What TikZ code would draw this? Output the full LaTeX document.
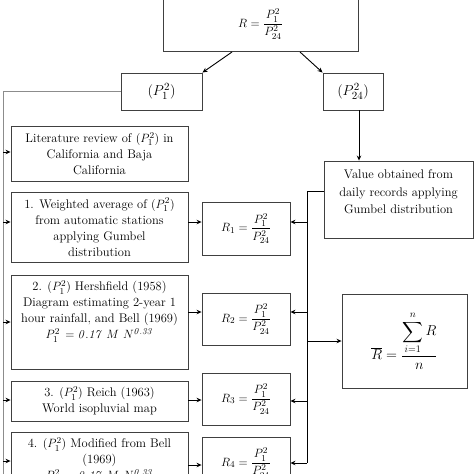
\documentclass[tikz,border=0pt]{standalone}
\usepackage{amsmath}
\usetikzlibrary{arrows.meta,calc}
\begin{document}
\begin{tikzpicture}[x=1pt,y=-1pt,
  box/.style={draw=black!75, line width=0.9pt, inner sep=0pt, align=center, font=\fontsize{12.5}{16}\selectfont},
  txt/.style={inner sep=0pt, align=center, font=\fontsize{12.5}{16}\selectfont},
  arr/.style={draw=black, line width=0.9pt, -{Stealth[length=5pt,width=4.5pt]}},
  ln/.style={draw=black, line width=0.9pt},
  gln/.style={draw=black!45, line width=1pt}]
\useasboundingbox (0,0) rectangle (474,474);
\clip (0,0) rectangle (474,474);
% top box
\node[box, minimum width=195, minimum height=100, anchor=south] (top) at (260.5,52) {};
\node[txt] (topf) at (260.5,24) {$R=\dfrac{P_1^2}{P_{24}^2}$};
% P boxes
\node[box, minimum width=81, minimum height=37] (p1) at (161.5,91.5) {\fontsize{15}{18}\selectfont$(P_1^2)$};
\node[box, minimum width=60, minimum height=37] (p24) at (353,91.5) {\fontsize{15}{18}\selectfont$(P_{24}^2)$};
% left boxes
\node[box, minimum width=177, minimum height=55] (lit) at (99.5,153.5) {Literature review of $(P_1^2)$ in\\California and Baja\\California};
\node[box, minimum width=177, minimum height=70] (b1) at (99.5,227) {1. Weighted average of $(P_1^2)$\\from automatic stations\\applying Gumbel\\distribution};
\node[box, minimum width=177, minimum height=94] (b2) at (99.5,322) {};
\node[txt, anchor=north] (b2t) at ([yshift=-6]b2.north) {2. $(P_1^2)$ Hershfield (1958)\\Diagram estimating 2-year 1\\hour rainfall, and Bell (1969)\\$P_1^2\,=\mathit{0.17}\ M\ N^{\mathit{0.33}}$};
\node[box, minimum width=177, minimum height=40] (b3) at (99.5,401) {3. $(P_1^2)$ Reich (1963)\\World isopluvial map};
\node[box, minimum width=177, minimum height=80] (b4) at (99.5,472) {};
\node[txt, anchor=north] (b4t) at ([yshift=-6]b4.north) {4. $(P_1^2)$ Modified from Bell\\(1969)\\$P_1^2\,=\mathit{0.17}\ M\ N^{\mathit{0.33}}$};
% R boxes
\node[box, minimum width=88, minimum height=53] (r1) at (246,228.5) {$R_1=\dfrac{P_1^2}{P_{24}^2}$};
\node[box, minimum width=88, minimum height=52] (r2) at (246,319) {$R_2=\dfrac{P_1^2}{P_{24}^2}$};
\node[box, minimum width=88, minimum height=52] (r3) at (246,399) {$R_3=\dfrac{P_1^2}{P_{24}^2}$};
\node[box, minimum width=88, minimum height=52] (r4) at (246,463) {$R_4=\dfrac{P_1^2}{P_{24}^2}$};
% value box
\node[box, minimum width=149, minimum height=77] (val) at (398.5,199.5) {};
\node[txt, anchor=north, font=\fontsize{12.5}{17.5}\selectfont] (valt) at ([yshift=-9]val.north) {Value obtained from\\daily records applying\\Gumbel distribution};
% Rbar box
\node[box, minimum width=125, minimum height=94] (rb) at (404.5,341) {\fontsize{14}{17}\selectfont$\overline{R}=\dfrac{\displaystyle\sum_{i=1}^{n}R}{n}$};
% coordinates
\coordinate (lx) at (3,480);
\coordinate (rv) at (307,191);
% top arrows
\draw[arr] ([xshift=-28.5]top.south) -- (p1.north east);
\draw[arr] ([xshift=39.5]top.south) -- (p24.north west);
% left line
\draw[gln] (p1.west) -| (lx);
\draw[arr] ([yshift=1.5]lit.west -| lx) -- ([yshift=1.5]lit.west);
\draw[arr] ([yshift=5]b1.west -| lx) -- ([yshift=5]b1.west);
\draw[arr] (b2.west -| lx) -- (b2.west);
\draw[arr] ([yshift=1]b3.west -| lx) -- ([yshift=1]b3.west);
\draw[arr] ([yshift=11]b4.west -| lx) -- ([yshift=11]b4.west);
% left to R
\draw[arr] ([yshift=5]b1.east) -- ([yshift=5]b1.east -| r1.west);
\draw[arr] ([yshift=10]b2.east) -- ([yshift=10]b2.east -| r2.west);
\draw[arr] ([yshift=1]b3.east) -- ([yshift=1]b3.east -| r3.west);
\draw[arr] ([yshift=7]b4.east) -- ([yshift=7]b4.east -| r4.west);
% P24 to value
\draw[arr] ([xshift=6]p24.south) -- ([xshift=6]p24.south |- val.north);
% value to right vertical line
\draw[ln] ([yshift=8.5]val.west) -- (rv) -- (rv |- r4.east);
\draw[arr] (rv |- r4.east) -- (r4.east);
\draw[arr] ([yshift=6.5]rv |- r1.east) -- ([yshift=6.5]r1.east);
\draw[arr] ([yshift=7]rv |- r2.east) -- ([yshift=7]r2.east);
\draw[arr] ([yshift=-2]rv |- r3.east) -- ([yshift=-2]r3.east);
\draw[arr] (rv |- rb.west) -- (rb.west);
\end{tikzpicture}
\end{document}
